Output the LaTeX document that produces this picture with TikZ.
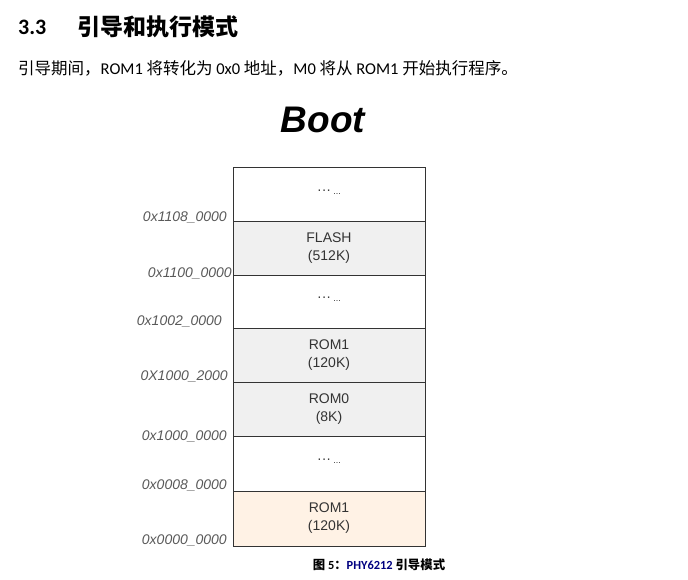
\documentclass[tikz,border=0pt]{standalone}
\usepackage{fontspec}
\setmainfont{Carlito}
\newfontfamily\cjk{Noto Sans CJK SC}
\newfontfamily\arial{Liberation Sans}
\begin{document}
\begin{tikzpicture}[x=1pt,y=-1pt,
  cell/.style={draw=black!80,line width=0.9pt},
  celltxt/.style={font=\arial\fontsize{14}{18}\selectfont,text=black!80,align=center},
  dots/.style={font=\arial\fontsize{14}{18}\selectfont,text=black!80},
  addr/.style={font=\arial\itshape\fontsize{14}{16}\selectfont,text=black!65,anchor=east,inner sep=0pt}]
\useasboundingbox (0,0) rectangle (688,580);
\node[anchor=west,inner sep=0pt,font=\bfseries\fontsize{22}{26}\selectfont] (h1) at (18,27) {3.3};
\node[anchor=west,inner sep=0pt,font=\cjk\bfseries\fontsize{23}{26}\selectfont] (h2) at (77,27) {引导和执行模式};
\node[anchor=west,inner sep=0pt,font=\fontsize{16.5}{20}\selectfont] (p) at (18,68) {{\cjk 引导期间，}ROM1 {\cjk 将转化为} 0x0 {\cjk 地址，}M0 {\cjk 将从} ROM1 {\cjk 开始执行程序。}};
\node[font=\arial\bfseries\itshape\fontsize{37}{40}\selectfont,inner sep=0pt] (title) at (323,120) {Boot};
\fill[white] (233,167) rectangle (425,221);
\fill[black!6] (233,221) rectangle (425,275);
\fill[black!6] (233,328) rectangle (425,436);
\fill[orange!10!white] (233,491) rectangle (425,546);
\draw[cell] (233,167) rectangle (425,546);
\foreach \y in {221,275,328,382,436,491} \draw[cell] (233,\y) -- (425,\y);
\node[dots] (c1) at (329,192) {···\,{\fontsize{9}{10}\selectfont ...}};
\node[celltxt] (c2) at (329,248) {FLASH\\(512K)};
\node[dots] (c3) at (329,299) {···\,{\fontsize{9}{10}\selectfont ...}};
\node[celltxt] (c4) at (329,355) {ROM1\\(120K)};
\node[celltxt] (c5) at (329,409) {ROM0\\(8K)};
\node[dots] (c6) at (329,461) {···\,{\fontsize{9}{10}\selectfont ...}};
\node[celltxt] (c7) at (329,518) {ROM1\\(120K)};
\node[addr] (a1) at (227,217) {0x1108\_0000};
\node[addr] (a2) at (232,273) {0x1100\_0000};
\node[addr] (a3) at (222,321) {0x1002\_0000};
\node[addr] (a4) at (228,376) {0X1000\_2000};
\node[addr] (a5) at (227,436) {0x1000\_0000};
\node[addr] (a6) at (227,485) {0x0008\_0000};
\node[addr] (a7) at (227,540) {0x0000\_0000};
\node[font=\bfseries\fontsize{12.4}{14}\selectfont,inner sep=0pt] (cap) at (379,565) {{\cjk 图} 5{\cjk ：}\textcolor{blue!50!black}{PHY6212} {\cjk 引导模式}};
\end{tikzpicture}
\end{document}
